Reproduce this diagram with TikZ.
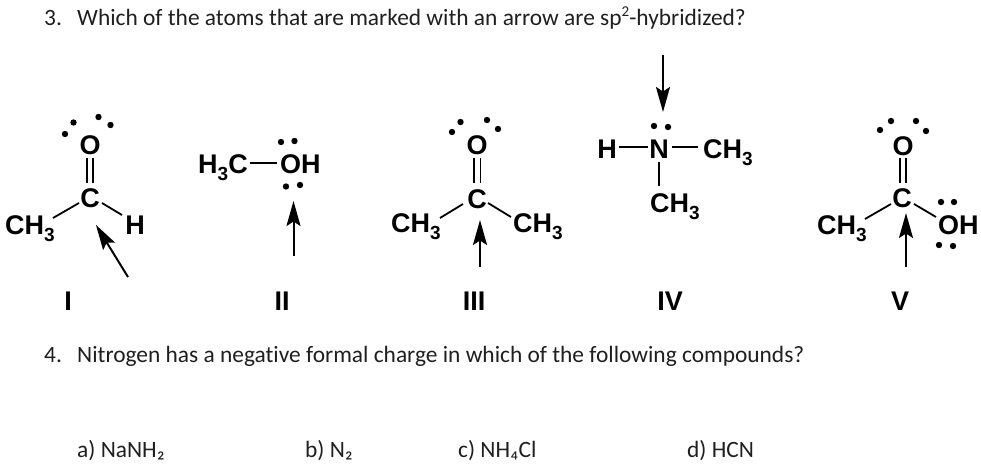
\documentclass[tikz,border=0pt]{standalone}
\usepackage{fontspec}
\setmainfont{Carlito}[Ligatures=NoCommon]
\newfontfamily\chemfont{Liberation Sans}[BoldFont={Liberation Sans Bold}]
\usetikzlibrary{arrows.meta}
\newcommand{\chemsub}[1]{\raisebox{-0.26em}{\fontsize{19}{19}\selectfont #1}}
\newcommand{\qsup}[1]{\raisebox{0.36em}{\fontsize{15}{15}\selectfont #1}}
\tikzset{
  x=1pt,y=-1pt,
  atom/.style={inner sep=0pt,anchor=base,font=\chemfont\bfseries\fontsize{27}{27}\selectfont},
  atoml/.style={atom,anchor=base west},
  numlabel/.style={atom},
  bond/.style={line width=1.8pt,black},
  markarrow/.style={line width=2pt,black,-{Stealth[length=25pt,width=14pt,inset=4.5pt]}},
  epair/.style={circle,fill=black,inner sep=0pt,minimum size=6.4pt},
  qtext/.style={inner sep=0pt,anchor=base west,font=\fontsize{23.4}{26}\selectfont,text=black!88}
}
\begin{document}
\begin{tikzpicture}
\useasboundingbox (0,0) rectangle (981,466);
% text
\node[qtext] (q3n) at (44,25) {3.};
\node[qtext] (q3) at (77,25) {Which of the atoms that are marked with an arrow are sp\qsup{2}-hybridized?};
\node[qtext] (q4n) at (44,362) {4.};
\node[qtext] (q4) at (77,362) {Nitrogen has a negative formal charge in which of the following compounds?};
\node[qtext] (a) at (77,457) {a) NaNH₂};
\node[qtext] (b) at (305,457) {b) N₂};
\node[qtext] (c) at (458,457) {c) NH₄Cl};
\node[qtext] (d) at (687,457) {d) HCN};
% I
\node[atom] (o1) at (90,154) {O};
\node[atom] (c1) at (90,207) {C};
\node[atoml] (me1) at (5,234) {CH\chemsub{3}};
\node[atom] (h1) at (135,234) {H};
\draw[bond] ([shift={(-3,4)}]o1.base) -- ([shift={(-3,-24)}]c1.base);
\draw[bond] ([shift={(3,4)}]o1.base) -- ([shift={(3,-24)}]c1.base);
\draw[bond] ([shift={(48,-16)}]me1.base west) -- ([shift={(-11,-4)}]c1.base);
\draw[bond] ([shift={(12,-4)}]c1.base) -- ([shift={(-13,-19)}]h1.base);
\node[epair] (o1a) at (65,134) {};
\node[epair] (o1b) at (73.5,122.5) {};
\node[epair] (o1c) at (98.5,117) {};
\node[epair] (o1d) at (110.5,125) {};
\coordinate (t1) at (128,277);
\coordinate (p1) at (96,225);
\draw[markarrow] (t1) -- (p1);
\node[numlabel] (l1) at (68,310) {I};
% II
\node[atoml] (me2) at (198,173) {H\chemsub{3}C};
\node[atoml] (oh2) at (280,173) {OH};
\draw[bond] ([shift={(52,-10)}]me2.base west) -- ([shift={(-3,-10)}]oh2.base west);
\node[epair] (o2a) at (281,142) {};
\node[epair] (o2b) at (294.5,141) {};
\node[epair] (o2c) at (286,186.5) {};
\node[epair] (o2d) at (300,185) {};
\coordinate (t2) at (293.5,256);
\coordinate (p2) at (293.5,201);
\draw[markarrow] (t2) -- (p2);
\node[numlabel] (l2) at (282,310) {II};
% III
\node[atom] (o3) at (477,154) {O};
\node[atom] (c3) at (477,208) {C};
\node[atoml] (me3) at (391,232) {CH\chemsub{3}};
\node[atoml] (me3r) at (513,232) {CH\chemsub{3}};
\draw[bond] ([shift={(-3,4)}]o3.base) -- ([shift={(-3,-25)}]c3.base);
\draw[bond] ([shift={(3.5,4)}]o3.base) -- ([shift={(3.5,-25)}]c3.base);
\draw[bond] ([shift={(49,-14)}]me3.base west) -- ([shift={(-14,-4)}]c3.base);
\draw[bond] ([shift={(11,-5)}]c3.base) -- ([shift={(-2,-15)}]me3r.base west);
\node[epair] (o3a) at (452,132) {};
\node[epair] (o3b) at (460.5,122) {};
\node[epair] (o3c) at (487,120) {};
\node[epair] (o3d) at (498,129) {};
\coordinate (t3) at (480,267);
\coordinate (p3) at (480,220);
\draw[markarrow] (t3) -- (p3);
\node[numlabel] (l3) at (474,310) {III};
% IV
\node[atom] (n4) at (659,158) {N};
\node[atom] (h4) at (607,158) {H};
\node[atoml] (me4r) at (703,158) {CH\chemsub{3}};
\node[atoml] (me4b) at (650,212) {CH\chemsub{3}};
\draw[bond] ([shift={(12,-11)}]h4.base) -- ([shift={(-11,-11)}]n4.base);
\draw[bond] ([shift={(13,-11)}]n4.base) -- ([shift={(-5,-11)}]me4r.base west);
\draw[bond] ([shift={(0,4)}]n4.base) -- ([shift={(9,-26)}]me4b.base west);
\node[epair] (n4a) at (654,126) {};
\node[epair] (n4b) at (668,127) {};
\coordinate (t4) at (663,55);
\coordinate (p4) at (663,112);
\draw[markarrow] (t4) -- (p4);
\node[numlabel] (l4) at (670,310) {IV};
% V
\node[atom] (o5) at (903,155) {O};
\node[atom] (c5) at (902,207) {C};
\node[atoml] (me5) at (817,234) {CH\chemsub{3}};
\node[atoml] (oh5) at (938,234) {OH};
\draw[bond] ([shift={(-3,3)}]o5.base) -- ([shift={(-2,-24)}]c5.base);
\draw[bond] ([shift={(3,3)}]o5.base) -- ([shift={(4,-24)}]c5.base);
\draw[bond] ([shift={(48,-15)}]me5.base west) -- ([shift={(-11,-3)}]c5.base);
\draw[bond] ([shift={(12,-3)}]c5.base) -- ([shift={(-2,-17)}]oh5.base west);
\node[epair] (o5a) at (880,130) {};
\node[epair] (o5b) at (891,121) {};
\node[epair] (o5c) at (916,121) {};
\node[epair] (o5d) at (926,131) {};
\node[epair] (o5e) at (941,202) {};
\node[epair] (o5f) at (954,202) {};
\node[epair] (o5g) at (939,245) {};
\node[epair] (o5h) at (953,246) {};
\coordinate (t5) at (906,267);
\coordinate (p5) at (906,213);
\draw[markarrow] (t5) -- (p5);
\node[numlabel] (l5) at (900,310) {V};
\end{tikzpicture}
\end{document}
